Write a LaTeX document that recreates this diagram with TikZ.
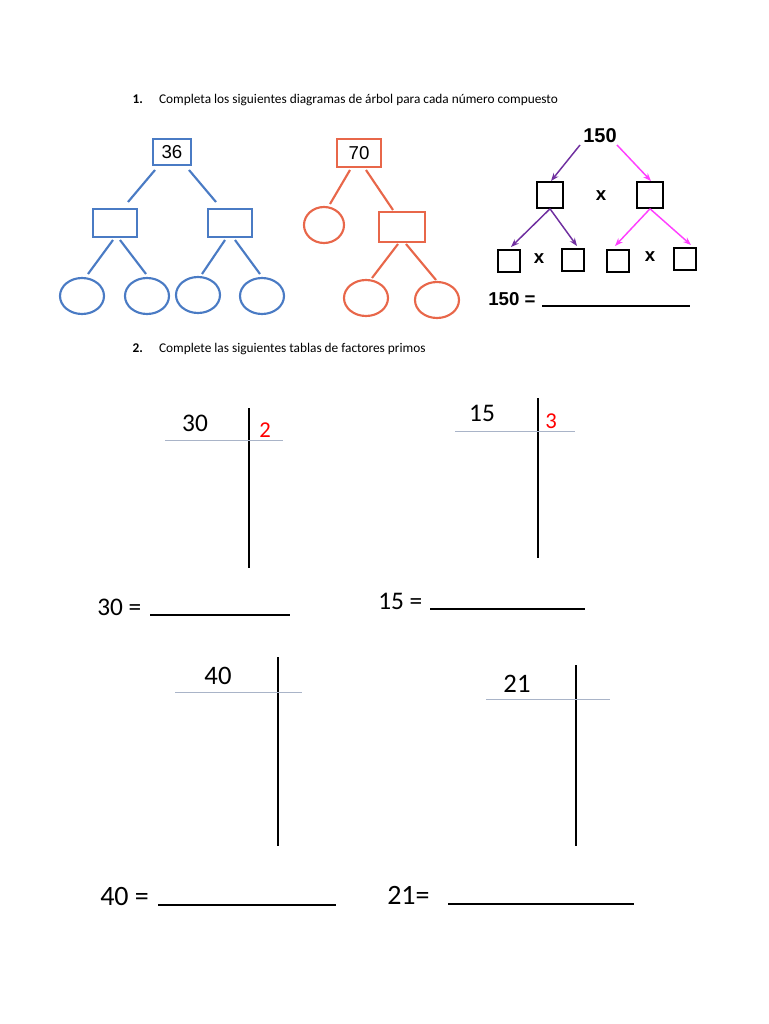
\documentclass[tikz,border=0pt]{standalone}
\usepackage{fontspec}
\setmainfont{Carlito}
\newfontfamily\arialf{Liberation Sans}
\usetikzlibrary{arrows.meta,shapes.geometric}
\definecolor{tb}{HTML}{4A7BC4}
\definecolor{to}{HTML}{E8674A}
\definecolor{tp}{HTML}{7030A0}
\definecolor{tk}{HTML}{FF40FF}
\definecolor{tg}{HTML}{A9B4C8}
\begin{document}
\begin{tikzpicture}[x=0.75pt,y=-0.75pt,
 bbox/.style={draw=tb,line width=1.6pt,minimum width=44*0.75pt,minimum height=28*0.75pt,inner sep=0pt,font=\arialf\fontsize{14}{14}\selectfont},
 bell/.style={draw=tb,line width=1.6pt,ellipse,minimum width=44*0.75pt,minimum height=36*0.75pt,inner sep=0pt},
 obox/.style={bbox,draw=to},
 oell/.style={bell,draw=to},
 bl/.style={tb,line width=1.6pt},
 ol/.style={to,line width=1.6pt},
 sq/.style={draw,line width=1.2pt,minimum size=22*0.75pt,inner sep=0pt},
 pa/.style={tp,line width=1.1pt,-{Stealth[length=6pt]}},
 ka/.style={tk,line width=1.1pt,-{Stealth[length=6pt]}},
 bf/.style={font=\arialf\bfseries\fontsize{14}{14}\selectfont},
 xs/.style={font=\arialf\bfseries\fontsize{14}{14}\selectfont},
 num/.style={font=\fontsize{19}{19}\selectfont,inner sep=0pt},
 eq/.style={font=\fontsize{19}{19}\selectfont,inner sep=0pt,anchor=west},
 vl/.style={line width=1.3pt},
 hl/.style={tg,line width=0.6pt},
 redn/.style={red,font=\fontsize{17}{17}\selectfont,inner sep=0pt}]
\useasboundingbox (0,0) rectangle (768,1024);
\node[anchor=west,font=\fontsize{10}{10}\selectfont] (q1) at (128,100) {\textbf{1.}\hspace{12pt}Completa los siguientes diagramas de árbol para cada número compuesto};
\node[anchor=west,font=\fontsize{10}{10}\selectfont] (q2) at (128,349) {\textbf{2.}\hspace{12pt}Complete las siguientes tablas de factores primos};
% tree 36
\node[bbox,minimum width=38*0.75pt,minimum height=26*0.75pt] (a) at (172,152) {36};
\node[bbox] (b1) at (115,223) {};
\node[bbox] (b2) at (230,223) {};
\node[bell] (c1) at (82,296) {};
\node[bell] (c2) at (147,296) {};
\node[bell] (c3) at (198,295) {};
\node[bell] (c4) at (262,296) {};
\coordinate (a1) at (155,170); \coordinate (a2) at (189,170);
\coordinate (a1e) at (128,202); \coordinate (a2e) at (216,202);
\draw[bl] (a1) -- (a1e); \draw[bl] (a2) -- (a2e);
\coordinate (p1) at (113,240); \coordinate (p1e) at (88,274);
\coordinate (p2) at (120,240); \coordinate (p2e) at (146,274);
\coordinate (p3) at (225,240); \coordinate (p3e) at (202,274);
\coordinate (p4) at (235,240); \coordinate (p4e) at (260,274);
\draw[bl] (p1)--(p1e); \draw[bl] (p2)--(p2e); \draw[bl] (p3)--(p3e); \draw[bl] (p4)--(p4e);
% tree 70
\node[obox] (s) at (359,153) {70};
\node[oell,minimum width=40*0.75pt] (t1) at (324,225) {};
\node[obox,minimum width=46*0.75pt,minimum height=30*0.75pt] (t2) at (402,227) {};
\node[oell] (u1) at (366,298) {};
\node[oell] (u2) at (437,300) {};
\coordinate (s1) at (350,170); \coordinate (s1e) at (330,204);
\coordinate (s2) at (366,170); \coordinate (s2e) at (393,210);
\draw[ol] (s1)--(s1e); \draw[ol] (s2)--(s2e);
\coordinate (r1) at (398,244); \coordinate (r1e) at (372,278);
\coordinate (r2) at (406,244); \coordinate (r2e) at (436,280);
\draw[ol] (r1)--(r1e); \draw[ol] (r2)--(r2e);
% tree 150
\node[bf,font=\arialf\bfseries\fontsize{15}{15}\selectfont] (top) at (600,136) {150};
\node[sq,minimum size=26*0.75pt] (m1) at (550,195) {};
\node[sq,minimum size=26*0.75pt] (m2) at (650,195) {};
\node[xs] (x1) at (601,196) {x};
\node[sq] (l1) at (509,261) {};
\node[sq] (l2) at (573,260) {};
\node[sq] (l3) at (618,261) {};
\node[sq] (l4) at (685,259) {};
\node[xs] (x2) at (539,259) {x};
\node[xs] (x3) at (650,257) {x};
\coordinate (tl) at (580,145); \coordinate (tr) at (617,145);
\draw[pa] (tl) -- (551,181);
\draw[ka] (tr) -- (651,181);
\draw[pa] (m1.south) -- (511,247);
\draw[pa] (m1.south) -- (577,246);
\draw[ka] (m2.south) -- (615,246);
\draw[ka] (m2.south) -- (691,245);
\node[bf,anchor=west,inner sep=0pt] (eq150) at (488,299) {150 =};
\draw[line width=1.2pt] (542,306) coordinate (e1) -- (690,306);
% tables
\draw[vl] (249,408) -- (249,568);
\draw[hl] (165,440) -- (283,440);
\node[num] (n30) at (195,423) {30};
\node[redn] (r2n) at (265,430) {2};
\node[eq] (e30) at (97,607) {30 =};
\draw[line width=0.8pt] (150,615) -- (290,615);
\draw[vl] (538,398) -- (538,558);
\draw[hl] (455,431) -- (575,431);
\node[num] (n15) at (482,413) {15};
\node[redn] (r3n) at (551,421) {3};
\node[eq] (e15) at (378,601) {15 =};
\draw[line width=0.8pt] (430,609) -- (585,609);
\draw[vl] (278,657) -- (278,846);
\draw[hl] (175,692) -- (302,692);
\node[num,font=\fontsize{20}{20}\selectfont] (n40) at (218,676) {40};
\node[eq,font=\fontsize{21}{21}\selectfont] (e40) at (100,896) {40 =};
\draw[line width=0.8pt] (158,905) -- (336,905);
\draw[vl] (576,665) -- (576,846);
\draw[hl] (486,699) -- (610,699);
\node[num,font=\fontsize{20}{20}\selectfont] (n21) at (517,684) {21};
\node[eq,font=\fontsize{21}{21}\selectfont] (e21) at (387,895) {21=};
\draw[line width=0.8pt] (448,904) -- (634,904);
\end{tikzpicture}
\end{document}
